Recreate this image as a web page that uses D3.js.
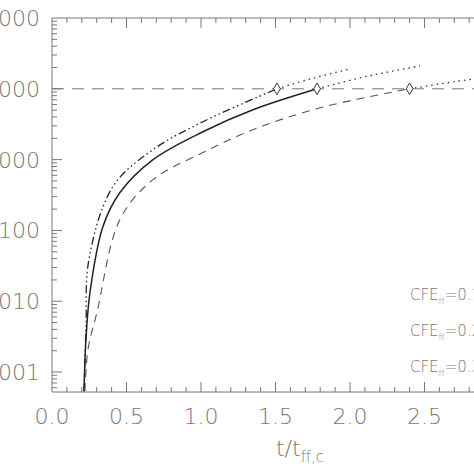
<!DOCTYPE html><html><head><script src="https://cdn.jsdelivr.net/npm/d3@7"></script>
<style>body{margin:0;background:#fff}</style></head><body><svg width="474" height="474"></svg>
<script>
const solidX=[0.215,0.228,0.255,0.342,0.456,0.678,1.013,1.349,1.779];
const solidL=[-3.27,-2.535,-1.873,-0.944,-0.465,0.0,0.394,0.704,1.0];
const ddX=[0.215,0.228,0.248,0.409,0.678,1.013,1.51];
const ddL=[-3.27,-2.39,-1.408,-0.38,0.141,0.535,1.0];
const dashX=[0.221,0.242,0.302,0.456,0.678,1.013,1.349,1.80,2.40];
const dashL=[-3.27,-2.676,-2.155,-0.845,-0.282,0.099,0.423,0.732,1.0];
const ext=[{x:[1.779,2.1,2.47],l:[1.0,1.17,1.324]},{x:[1.51,1.75,2.0],l:[1.0,1.15,1.28]},{x:[2.40,2.7,3.0],l:[1.0,1.1,1.19]}];
const diamonds=[[1.51,10],[1.779,10],[2.40,10]];
const xTicks=[0,0.5,1.0,1.5,2.0,2.5,3.0];
const yTicks=[0.001,0.01,0.1,1,10,100];
const yLabels=["0.001","0.010","0.100","1.000","10.000","100.000"];
const legend=["0.1","0.2","0.3"];
const svg=d3.select("svg"),gray="#777";
const x=d3.scaleLinear([0,3],[52,499]);
const y=d3.scaleLog([Math.pow(10,-3.282),100],[392,18]);
const g=svg.append("g");
g.append("line").attr("x1",52).attr("x2",474).attr("y1",392).attr("y2",392).attr("stroke",gray);
g.append("line").attr("x1",52).attr("x2",474).attr("y1",18).attr("y2",18).attr("stroke",gray);
g.append("line").attr("x1",52).attr("x2",52).attr("y1",18).attr("y2",392).attr("stroke",gray);
for(let i=1;i<=30;i++){const big=i%5==0,px=x(i/10);
 g.append("line").attr("x1",px).attr("x2",px).attr("y1",392).attr("y2",392-(big?10:5)).attr("stroke",gray);
 g.append("line").attr("x1",px).attr("x2",px).attr("y1",18).attr("y2",18+(big?10:5)).attr("stroke",gray);}
for(let e=-4;e<=1;e++)for(let m=1;m<10;m++){const v=m*Math.pow(10,e);if(v<y.domain()[0]||v>100)continue;
 g.append("line").attr("x1",52).attr("x2",52+(m==1?10:5)).attr("y1",y(v)).attr("y2",y(v)).attr("stroke",gray);}
const F="DejaVu Sans";
xTicks.forEach(t=>g.append("text").attr("x",x(t)).attr("y",424).attr("text-anchor","middle").attr("font-family",F).attr("font-weight","200").attr("font-size",22).attr("fill",gray).text(t.toFixed(1)));
yTicks.forEach((t,i)=>g.append("text").attr("x",40).attr("y",y(t)+8).attr("text-anchor","end").attr("font-family",F).attr("font-weight","200").attr("font-size",22).attr("fill",gray).text(yLabels[i]));
const tx=g.append("text").attr("x",300).attr("y",456).attr("text-anchor","middle").attr("font-family",F).attr("font-weight","200").attr("font-size",22).attr("fill",gray);
tx.append("tspan").text("t/t");tx.append("tspan").attr("font-size",15).attr("dy",6).text("ff,c");
g.append("line").attr("x1",52).attr("x2",474).attr("y1",y(10)).attr("y2",y(10)).attr("stroke",gray).attr("stroke-dasharray","12,8");
const line=d3.line().x(d=>x(d[0])).y(d=>y(Math.pow(10,d[1]))).curve(d3.curveCatmullRom.alpha(0.5));
const z=(a,b)=>a.map((v,i)=>[v,b[i]]);
g.append("path").attr("d",line(z(solidX,solidL))).attr("fill","none").attr("stroke","#222").attr("stroke-width",1.5);
g.append("path").attr("d",line(z(ddX,ddL))).attr("fill","none").attr("stroke","#222").attr("stroke-width",1.3).attr("stroke-dasharray","8,3,1.5,3,1.5,3,1.5,3");
g.append("path").attr("d",line(z(dashX,dashL))).attr("fill","none").attr("stroke","#555").attr("stroke-width",1.1).attr("stroke-dasharray","8,6");
ext.forEach(e=>g.append("path").attr("d",line(z(e.x,e.l))).attr("fill","none").attr("stroke","#333").attr("stroke-width",1.3).attr("stroke-dasharray","1.5,4"));
diamonds.forEach(d=>g.append("path").attr("d",d3.symbol(d3.symbolDiamond,40)()).attr("transform",`translate(${x(d[0])},${y(d[1])})`).attr("fill","white").attr("stroke","#333"));
legend.forEach((l,i)=>{const t=g.append("text").attr("x",410).attr("y",300+i*36).attr("font-family",F).attr("font-weight","200").attr("font-size",15).attr("fill",gray);
 t.append("tspan").text("CFE");t.append("tspan").attr("font-size",9).attr("dy",4).text("ff");t.append("tspan").attr("dy",-4).text("=0."+l.slice(2));});
</script></body></html>
